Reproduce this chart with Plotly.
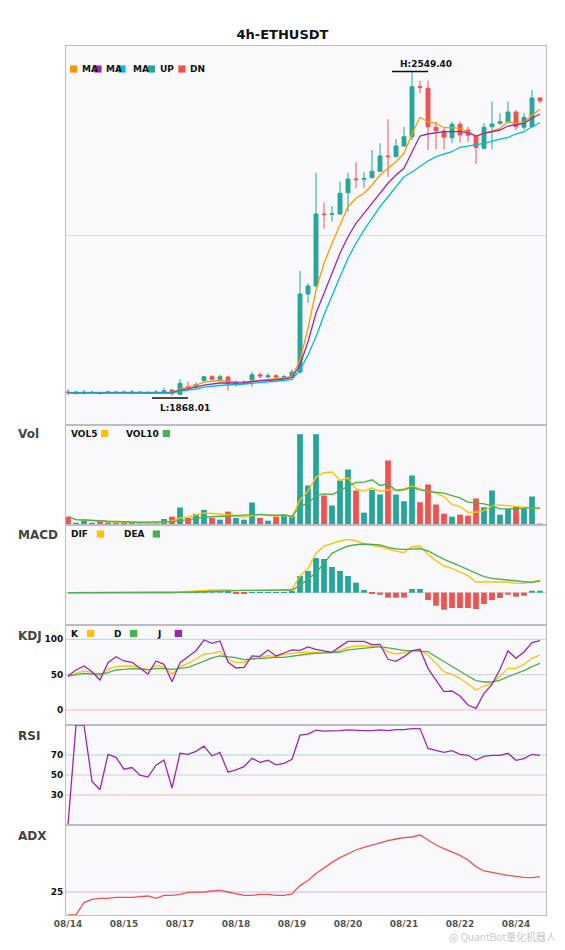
import numpy as np
import plotly.graph_objects as go
from plotly.subplots import make_subplots

# ---- data (60 x 4h candles) ----
opens = [1876.4, 1873.3, 1874.7, 1875.8, 1875.4, 1874.3, 1876.4, 1876.4, 1875.4, 1876.4,
         1875.8, 1875.1, 1875.8, 1880.6, 1871.6, 1887.5, 1888.2, 1900.1, 1908.5, 1903.1,
         1907.9, 1893.2, 1894.7, 1901.6, 1912.7, 1907.9, 1910.6, 1906.9, 1908.5, 1918.4,
         2082.2, 2099.0, 2250.2, 2249.6, 2250.2, 2294.9, 2323.7, 2323.1, 2326.4, 2339.9,
         2372.0, 2370.5, 2393.0, 2412.5, 2517.5, 2514.2, 2432.3, 2424.5, 2410.4, 2438.6,
         2426.6, 2414.0, 2388.2, 2433.5, 2440.7, 2443.4, 2464.4, 2432.3, 2433.5, 2493.8]
highs = [1882.7, 1878.5, 1880.6, 1879.6, 1876.4, 1878.5, 1878.5, 1879.6, 1880.6, 1878.5,
         1877.5, 1880.6, 1885.4, 1882.7, 1903.1, 1898.0, 1896.8, 1910.6, 1912.1, 1912.7,
         1910.6, 1901.6, 1901.6, 1919.0, 1917.8, 1915.7, 1914.2, 1912.7, 1924.1, 2130.5,
         2104.7, 2336.9, 2273.9, 2267.0, 2318.0, 2336.9, 2358.8, 2338.4, 2384.6, 2398.7,
         2449.1, 2407.7, 2433.5, 2549.40, 2530.1, 2530.1, 2444.0, 2430.2, 2444.0, 2444.0,
         2433.5, 2416.1, 2440.7, 2486.0, 2461.7, 2486.0, 2468.6, 2461.7, 2510.6, 2495.9]
lows = [1869.1, 1870.1, 1871.2, 1872.2, 1870.1, 1872.2, 1873.3, 1873.3, 1871.2, 1873.3,
        1872.2, 1873.3, 1874.3, 1868.01, 1870.1, 1880.6, 1883.3, 1898.5, 1901.6, 1901.6,
        1879.1, 1887.5, 1891.1, 1887.5, 1905.2, 1905.2, 1905.8, 1904.3, 1907.3, 1914.2,
        2063.3, 2098.0, 2219.3, 2234.0, 2249.2, 2255.0, 2304.2, 2304.8, 2325.8, 2339.4,
        2328.5, 2369.9, 2392.0, 2405.6, 2503.7, 2384.6, 2386.1, 2386.1, 2398.7, 2400.0,
        2402.0, 2354.6, 2386.1, 2386.1, 2437.1, 2440.7, 2426.6, 2426.6, 2432.0, 2482.7]
closes = [1875.4, 1876.4, 1875.8, 1874.9, 1873.3, 1877.0, 1875.4, 1875.4, 1876.4, 1875.2,
          1874.3, 1876.4, 1879.1, 1873.7, 1894.7, 1886.3, 1891.7, 1908.5, 1903.1, 1908.5,
          1894.7, 1895.9, 1897.4, 1912.7, 1910.0, 1910.6, 1907.9, 1909.0, 1918.4, 2082.2,
          2099.0, 2250.2, 2248.9, 2250.8, 2293.7, 2323.7, 2322.4, 2324.8, 2339.9, 2372.0,
          2370.7, 2393.0, 2412.5, 2517.5, 2516.3, 2433.5, 2425.1, 2411.3, 2438.6, 2416.1,
          2415.5, 2390.3, 2432.3, 2439.2, 2444.0, 2464.4, 2433.5, 2453.3, 2493.8, 2488.1]

ma_fast = [1875.4] * 14 + [
    1882.7, 1886.9, 1891.1, 1897.4, 1899.5, 1900.6, 1898.5, 1897.4, 1896.8, 1899.5,
    1901.6, 1902.7, 1904.3, 1905.8, 1909.0, 1943.6, 2010.2, 2090.6, 2146.7, 2188.7,
    2227.1, 2265.5, 2283.2, 2293.7, 2311.1, 2332.1, 2346.2, 2360.0, 2377.7, 2418.2,
    2453.3, 2444.0, 2440.7, 2431.4, 2431.4, 2430.2, 2423.0, 2414.0, 2419.7, 2424.5,
    2430.2, 2444.0, 2440.7, 2441.9, 2458.1, 2470.1]
ma_mid = [1874.9] * 14 + [
    1879.6, 1882.7, 1886.9, 1891.1, 1893.2, 1895.3, 1895.3, 1895.3, 1895.9, 1898.0,
    1900.1, 1900.6, 1901.6, 1903.7, 1906.9, 1933.1, 1982.0, 2041.7, 2083.7, 2125.7,
    2167.7, 2202.5, 2230.7, 2251.7, 2272.7, 2293.7, 2314.7, 2332.1, 2346.2, 2380.4,
    2414.0, 2418.2, 2420.9, 2423.0, 2423.0, 2423.0, 2420.9, 2414.0, 2419.7, 2423.0,
    2426.6, 2435.0, 2437.1, 2440.7, 2451.2, 2460.2]
ma_slow = [1874.3] * 14 + [
    1878.5, 1880.6, 1882.7, 1886.9, 1889.0, 1890.1, 1891.1, 1891.7, 1893.2, 1894.7,
    1895.9, 1897.4, 1898.9, 1900.6, 1903.1, 1922.6, 1954.1, 1992.5, 2038.1, 2080.1,
    2118.5, 2157.2, 2188.7, 2216.6, 2241.2, 2265.5, 2286.5, 2307.5, 2328.5, 2338.4,
    2349.5, 2361.5, 2370.5, 2376.2, 2381.0, 2390.3, 2393.0, 2394.5, 2398.7, 2403.5,
    2407.1, 2411.3, 2418.2, 2423.0, 2433.5, 2441.9]

volume = [8.3, 2.3, 4.3, 2.3, 4.3, 2.6, 2.0, 2.0, 2.0, 1.7, 1.7, 2.0, 6.0, 8.3, 17.3,
          7.0, 11.0, 15.0, 7.0, 5.3, 13.3, 7.0, 5.3, 22.3, 7.0, 4.3, 8.3, 8.7, 8.7, 90.3,
          39.3, 90.3, 29.3, 19.3, 44.3, 55.3, 34.3, 12.3, 35.0, 30.3, 64.3, 30.3, 23.7, 49.3,
          22.7, 40.3, 20.3, 11.3, 8.3, 10.3, 9.3, 26.3, 17.7, 34.3, 10.3, 16.0, 18.3, 16.0,
          28.3, 0.7]
vol5 = [8.3, 5.3, 5.0, 4.3, 4.3, 3.2, 3.0, 2.6, 2.6, 2.0, 1.9, 1.9, 2.7, 4.0, 7.0, 8.0,
        10.0, 12.0, 11.5, 11.0, 10.0, 9.5, 7.6, 9.0, 10.7, 9.5, 9.0, 10.0, 7.7, 25.0, 33.7,
        47.7, 52.0, 52.7, 44.3, 47.0, 36.0, 33.7, 37.0, 33.3, 35.0, 35.0, 36.0, 38.7, 36.0,
        33.3, 31.7, 28.3, 20.3, 18.3, 12.7, 12.7, 14.3, 19.3, 20.0, 19.3, 18.3, 18.3, 17.0,
        16.0]
vol10 = [8.3, 5.3, 5.0, 4.3, 4.3, 3.7, 3.7, 3.0, 3.0, 2.7, 2.7, 2.7, 3.0, 3.3, 4.3, 5.0,
         6.3, 7.7, 8.3, 8.7, 8.7, 9.3, 9.7, 10.3, 10.3, 9.7, 9.7, 10.0, 8.7, 18.3, 21.7,
         29.3, 31.0, 30.3, 34.3, 39.0, 42.3, 42.7, 45.0, 39.3, 41.0, 34.3, 35.0, 37.7, 35.0,
         33.3, 32.7, 31.7, 29.3, 27.0, 22.7, 22.0, 21.0, 19.0, 16.0, 16.0, 16.0, 16.7, 17.3,
         16.7]

dif = [0, 0, 0, 0, -0.3, 0, 0, 0, 0, 0, 0, 0, 0, -0.3,
       0.7, 1, 1.7, 2.3, 2.7, 3, 2.7, 2.3, 2, 2.3, 2.3, 2.3, 2.7,
       2.7, 3.3, 16.7, 24.3, 39.3, 46.7, 49.3, 51.7, 53.3, 52,
       48.7, 47.3, 46, 43.7, 41.3, 40.3, 46, 46.7, 38.3, 32,
       26.7, 24.3, 21, 17, 10.7, 10.7, 10.7, 10.7, 10.7, 9.3,
       9.3, 11, 12.3]
dea = [0] * 14 + [
    0.2, 0.4, 0.7, 1, 1.4, 1.8, 2, 2.2, 2.3, 2.3, 2.3, 2.3, 2.5,
    2.7, 2.7, 7.3, 13.3, 20, 29.3, 39.3, 43.3, 46.7, 48,
    48.7, 48.3, 47.7, 45.3, 43.7, 43.3, 43.7, 44, 41.7, 37.3,
    33.3, 30, 26.7, 23, 19.3, 16, 14.3, 13.3, 12.7, 11.7,
    11, 10.3, 11.7]
macd_hist = [0] * 14 + [
    0.5, 0.6, 1.5, 2, 2.3, 2, 1, -0.7, -0.7, 0.5, 0.5, 0.5, 0.3,
    0.3, 1.3, 16.7, 21.7, 34.7, 33.7, 25.7, 21.7, 16.7, 10,
    2.7, -1, -2, -5, -5, -5, 3.7, 3.7, -7.3, -13,
    -17, -15.3, -15.3, -15.3, -16.3, -11.3, -7.3, -5.3, -2, -4,
    -3, 2, 2]

k_line = [48, 51.9, 55.2, 53.3, 48.1, 57.5, 61.3, 62.2, 62.2, 59.9,
          56.6, 62.7, 61.3, 50.9, 61.3, 66, 71.7, 79.2, 80.2, 83,
          71.7, 67.4, 67.4, 73.1, 74, 76.9, 75.4, 78.7, 80.2, 81.6,
          81.6, 82, 81.6, 81.1, 83.9, 88.6, 90.5, 90.5, 90.5, 89.6,
          82.5, 79.2, 81.1, 83.9, 84.9, 77.8, 66, 54.2, 50.4, 44.8,
          36.8, 28.3, 33.9, 37.7, 48.1, 58.9, 58.9, 64.6, 73.1, 77.8]
d_line = [48, 50.4, 51.9, 50.9, 50.9, 52.8, 56.6, 57.5, 58.5, 58,
          57, 58.5, 58.9, 57.5, 58.9, 60.3, 64.6, 69.3, 73.6, 76.4,
          75.4, 74, 71.2, 72.1, 72.1, 74, 74.5, 74.5, 76.4, 78.3,
          79.2, 80.2, 80.6, 81.1, 82, 84.9, 86.3, 87.7, 88.6, 89.6,
          87.7, 85.8, 84.4, 83.5, 83.5, 82.5, 75.4, 68.4, 61.3, 54.2,
          48.1, 41.5, 39.6, 39.6, 42.4, 47.1, 50.9, 55.6, 61.3, 66]
j_line = [48, 56.6, 62.2, 54.2, 42.4, 67, 75.4, 69.3, 67.4, 58.9,
          50.9, 69.3, 64.6, 40.1, 67, 75.4, 83.9, 99, 94.3, 97.6,
          67.9, 59.4, 60.3, 76.4, 75.9, 84.9, 76.4, 80.6, 84.9, 84.4,
          89.1, 85.8, 83.5, 81.6, 89.6, 97.1, 97.1, 97.1, 92.4, 92.9,
          71.7, 68.8, 75.4, 83.9, 85.8, 58.9, 42.4, 25.9, 26.9, 19.8,
          7.1, 2.4, 23.6, 36.3, 57.5, 83.5, 73.1, 82, 95.2, 98.1]

rsi = [0, 100, 100, 43.6, 35.3, 70.7, 67.7, 55.8, 57.5, 49.9,
       47.9, 59.8, 65, 37, 71.7, 70.7, 73.6, 78.9, 69, 72.6,
       52.8, 55.1, 58.4, 66.7, 62.7, 64.7, 60.1, 61.7, 65.7, 89.8,
       90.8, 94.8, 93.8, 93.8, 94.4, 95.1, 94.4, 94.4, 94.4, 95.1,
       94.4, 95.4, 95.4, 96.4, 96.4, 76.6, 74.6, 72.6, 74.3, 70.7,
       69.7, 65, 68.7, 69.7, 69.7, 71.7, 64.7, 66.4, 70.7, 69.7]

adx = [13.6, 13.6, 19.7, 21.3, 21.8, 21.8, 22.3, 22.3, 22.3, 22.7,
       23, 21.8, 23.3, 23.3, 23.8, 24.8, 24.8, 25, 25.5, 25.8,
       25, 24, 23.3, 23.3, 23.8, 23.8, 23.3, 23.3, 24, 28.2,
       30.7, 34.3, 37.2, 39.8, 42.2, 44.3, 46, 47.3, 48.5, 49.7,
       50.7, 51.5, 52.2, 52.5, 53.5, 51, 48.5, 46.7, 45, 43.3,
       41, 37.7, 35.5, 34.7, 34, 33.3, 32.8, 32.3, 32.2, 32.7]

tick_pos = [0, 7, 14, 21, 28, 35, 42, 49, 56]
tick_text = ["08/14", "08/15", "08/17", "08/18", "08/19", "08/20", "08/21", "08/22", "08/24"]

UP = "#26a69a"
DN = "#ef5350"
ORANGE = "#ff9800"
PURPLE = "#9c27b0"
CYAN = "#00bcd4"
YELLOW = "#ffc107"
GREEN = "#4caf50"
FONT = "DejaVu Sans"

idx = list(range(len(closes)))
bar_colors = [UP if c >= o else DN for o, c in zip(opens, closes)]
hist_colors = [UP if h >= 0 else DN for h in macd_hist]

fig = make_subplots(rows=6, cols=1, shared_xaxes=True, vertical_spacing=0,
                    row_heights=[378.5, 100.5, 100, 100, 100, 90])

fig.add_trace(go.Candlestick(
    x=idx, open=opens, high=highs, low=lows, close=closes, whiskerwidth=0,
    increasing=dict(line=dict(color=UP, width=1), fillcolor=UP),
    decreasing=dict(line=dict(color=DN, width=1), fillcolor=DN),
    showlegend=False), row=1, col=1)
for ys, c in [(ma_fast, ORANGE), (ma_mid, PURPLE), (ma_slow, CYAN)]:
    fig.add_trace(go.Scatter(x=idx, y=ys, mode="lines", line=dict(color=c, width=1.3),
                             showlegend=False), row=1, col=1)

fig.add_trace(go.Bar(x=idx, y=volume, marker_color=bar_colors, marker_line_width=0,
                     width=0.72, showlegend=False), row=2, col=1)
fig.add_trace(go.Scatter(x=idx, y=vol5, mode="lines", line=dict(color=YELLOW, width=1.4),
                         showlegend=False), row=2, col=1)
fig.add_trace(go.Scatter(x=idx, y=vol10, mode="lines", line=dict(color=GREEN, width=1.4),
                         showlegend=False), row=2, col=1)

fig.add_trace(go.Bar(x=idx, y=macd_hist, marker_color=hist_colors, marker_line_width=0,
                     width=0.72, showlegend=False), row=3, col=1)
fig.add_trace(go.Scatter(x=idx, y=dif, mode="lines", line=dict(color=YELLOW, width=1.4),
                         showlegend=False), row=3, col=1)
fig.add_trace(go.Scatter(x=idx, y=dea, mode="lines", line=dict(color=GREEN, width=1.4),
                         showlegend=False), row=3, col=1)

for ys, c in [(k_line, YELLOW), (d_line, GREEN), (j_line, PURPLE)]:
    fig.add_trace(go.Scatter(x=idx, y=ys, mode="lines", line=dict(color=c, width=1.3),
                             showlegend=False), row=4, col=1)

fig.add_trace(go.Scatter(x=idx, y=rsi, mode="lines", line=dict(color=PURPLE, width=1.3),
                         showlegend=False), row=5, col=1)
fig.add_trace(go.Scatter(x=idx, y=adx, mode="lines", line=dict(color=DN, width=1.3),
                         showlegend=False), row=6, col=1)

# reference lines
for row, y, c in [(3, 0, "#cfcfd4"),
                  (4, 100, "#a8dcd8"), (4, 50, "#cfcfd4"), (4, 0, "#f5b5b5"),
                  (5, 70, "#a8dcd8"), (5, 50, "#cfcfd4"), (5, 30, "#f5b5b5"),
                  (6, 25, "#ddb0ea")]:
    fig.add_hline(y=y, line=dict(color=c, width=1), layer="below", row=row, col=1)

fig.update_xaxes(range=[-0.25, 59.75], rangeslider_visible=False, showgrid=False,
                 zeroline=False, showline=True, mirror=True, linecolor="#bcbcc6",
                 linewidth=1, ticks="", tickvals=tick_pos, ticktext=tick_text,
                 showticklabels=False, automargin=False)
fig.update_xaxes(showticklabels=True, tickfont=dict(family=FONT, size=9, color="#555555",
                                                    weight="bold"), row=6, col=1)
fig.update_yaxes(showgrid=False, zeroline=False, showline=True, mirror=True,
                 linecolor="#bcbcc6", linewidth=1, ticks="", showticklabels=False,
                 automargin=False,
                 tickfont=dict(family=FONT, size=9, color="#111111", weight="bold"))
fig.update_yaxes(range=[1808.2, 2603], tickvals=[2206], showgrid=True,
                 gridcolor="#dcdcdc", row=1, col=1)
fig.update_yaxes(range=[0, 100], row=2, col=1)
fig.update_yaxes(range=[-32.3, 67.7], row=3, col=1)
fig.update_yaxes(range=[-21.2, 120.2], tickvals=[0, 50, 100], showticklabels=True, row=4, col=1)
fig.update_yaxes(range=[0, 100], tickvals=[30, 50, 70], showticklabels=True, row=5, col=1)
fig.update_yaxes(range=[13.5, 58.5], tickvals=[25], showticklabels=True, row=6, col=1)


def px_x(x):
    return (x - 66) / 480


def px_y(y):
    return (915 - y) / 869


def legend_text(x, y, text):
    fig.add_annotation(x=px_x(x), y=px_y(y), xref="paper", yref="paper", text=text,
                       showarrow=False, xanchor="left", yanchor="middle",
                       font=dict(family=FONT, size=9, color="#111111", weight="bold"))


def legend_box(x, y, color):
    fig.add_shape(type="rect", xref="paper", yref="paper", x0=px_x(x), x1=px_x(x + 7.3),
                  y0=px_y(y + 3.6), y1=px_y(y - 3.6), fillcolor=color, line_width=0)


# main legend (box then label)
for bx, c, tx, t in [(70, ORANGE, 80, "MA"), (94.3, PURPLE, 104, "MA"),
                     (118.3, CYAN, 130.5, "MA"), (147.7, UP, 158, "UP"), (178.3, DN, 188, "DN")]:
    legend_box(bx, 69, c)
    legend_text(tx, 69, t)

# panel legends (label then box)
for tx, t, bx, c, y in [(69, "VOL5", 101, YELLOW, 433.5), (124, "VOL10", 162.7, GREEN, 433.5),
                        (69, "DIF", 96.7, YELLOW, 534), (122, "DEA", 152.7, GREEN, 534),
                        (69, "K", 87, YELLOW, 633.5), (112, "D", 130, GREEN, 633.5),
                        (155, "J", 174.7, PURPLE, 633.5)]:
    legend_text(tx, y, t)
    legend_box(bx, y, c)

# panel names
for name, y in [("Vol", 434), ("MACD", 535), ("KDJ", 635.5), ("RSI", 735.5), ("ADX", 835.5)]:
    fig.add_annotation(x=px_x(16), y=px_y(y), xref="paper", yref="paper", text=name,
                       showarrow=False, xanchor="left", yanchor="middle",
                       font=dict(family=FONT, size=12, color="#444444", weight="bold"))

# high / low markers
hi_i = int(np.argmax(highs))
lo_i = int(np.argmin(lows))
hi = highs[hi_i]
lo = lows[lo_i]
fig.add_shape(type="line", xref="x", yref="y", x0=hi_i - 2.5, x1=hi_i + 2, y0=hi, y1=hi,
              line=dict(color="#111111", width=1.5))
fig.add_shape(type="line", xref="x", yref="y", x0=lo_i - 2.5, x1=lo_i + 2, y0=lo - 4,
              y1=lo - 4, line=dict(color="#111111", width=1.5))
fig.add_annotation(x=hi_i + 1.7, y=hi, xref="x", yref="y", text=f"H:{hi:.2f}",
                   showarrow=False, yanchor="bottom", yshift=1,
                   font=dict(family=FONT, size=9, color="#111111", weight="bold"))
fig.add_annotation(x=lo_i + 1.6, y=lo, xref="x", yref="y", text=f"L:{lo:.2f}",
                   showarrow=False, yanchor="top", yshift=-5,
                   font=dict(family=FONT, size=9, color="#111111", weight="bold"))

# watermark
fig.add_annotation(x=px_x(558), y=px_y(937), xref="paper", yref="paper",
                   text="@ QuantBot量化机器人", showarrow=False, xanchor="right",
                   yanchor="middle",
                   font=dict(family="Noto Sans CJK SC", size=10, color="#c8c8c8"))

fig.update_layout(
    width=565, height=950,
    margin=dict(l=66, r=19, t=46, b=35),
    paper_bgcolor="white", plot_bgcolor="#f9f9fc",
    title=dict(text="4h-ETHUSDT", x=0.5, xref="container", y=1 - 34 / 950,
               yref="container", xanchor="center", yanchor="middle", automargin=False,
               font=dict(family=FONT, size=13, color="#111111", weight="bold")),
    showlegend=False, bargap=0.25,
    font=dict(family=FONT),
)

fig.write_html("out.html", config={"displayModeBar": False},
               post_script="document.body.style.margin='0';")
